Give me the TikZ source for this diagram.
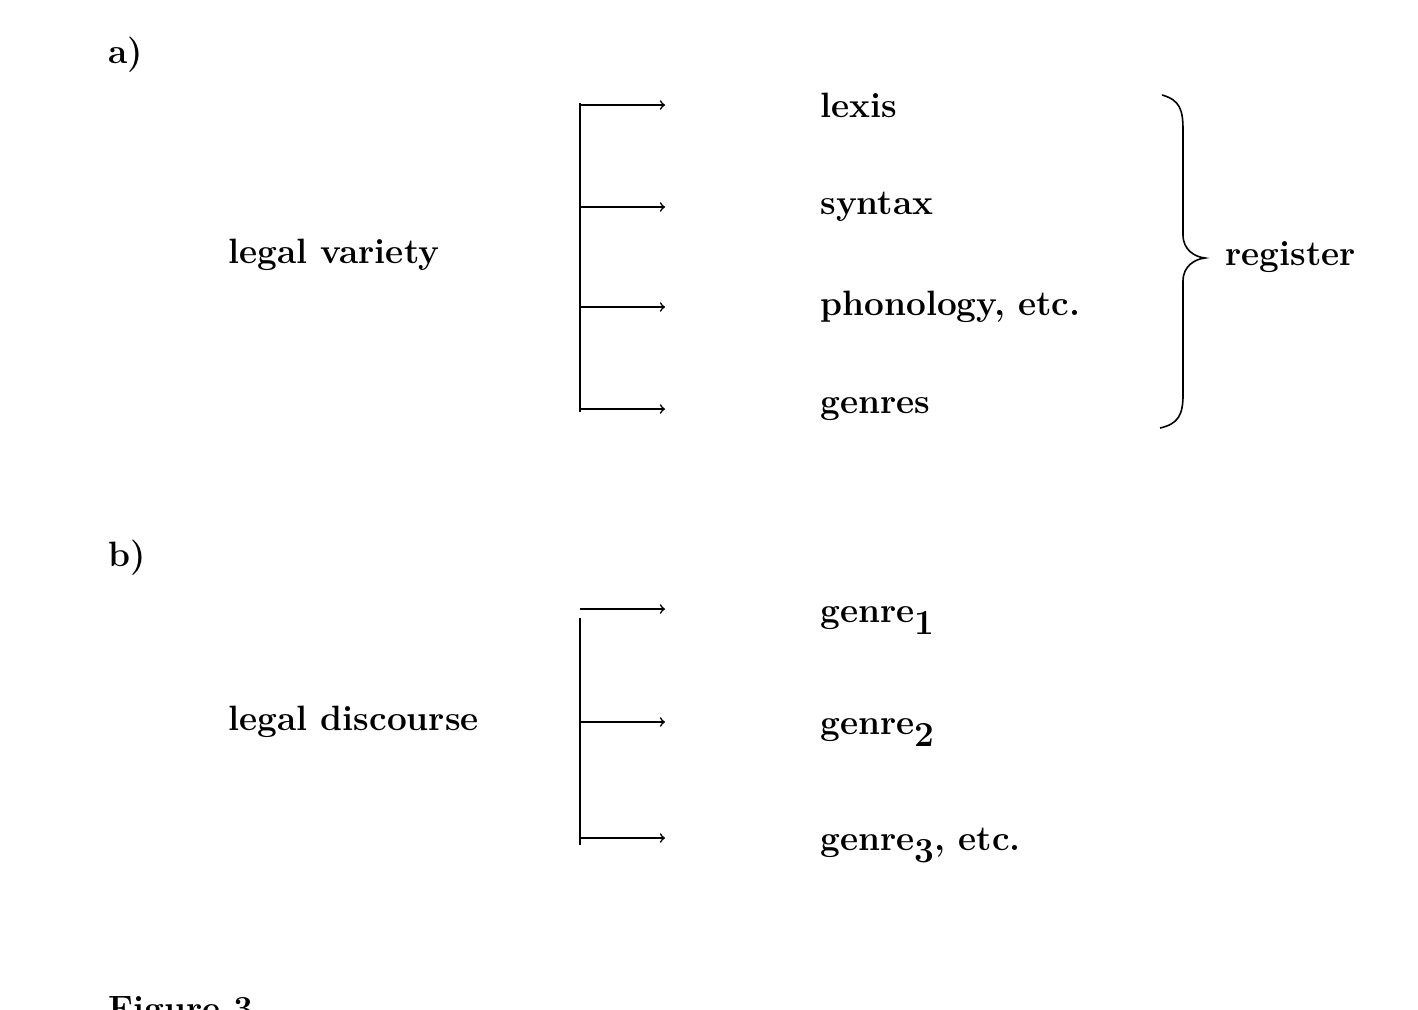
\documentclass[tikz,border=0pt]{standalone}
\newcommand{\lowsub}[1]{\raisebox{-0.35em}{#1}}
\begin{document}
\begin{tikzpicture}[x=0.5pt,y=-0.5pt,
  lab/.style={anchor=west,inner sep=0pt,font=\fontsize{17.6}{20}\selectfont\bfseries},
  arr/.style={->,>={to[scale=1.4]},line width=0.8pt},
  ln/.style={line width=0.8pt}]
\useasboundingbox (0,0) rectangle (1418,1009);
\clip (0,0) rectangle (1418,1009);
\node[lab] (a) at (108,55) {a)};
\node[lab] (lv) at (228,255) {legal variety};
\coordinate (t1) at (580,103); \coordinate (b1) at (580,412);
\draw[ln] (t1) -- (b1);
\foreach \y/\n in {105/1,207/2,307/3,409/4}{
  \coordinate (s\n) at (580,\y); \coordinate (e\n) at (665,\y);
  \draw[arr] (s\n) -- (e\n);}
\node[lab] (lex) at (820,105) {lexis};
\node[lab] (syn) at (820,207) {syntax};
\node[lab] (pho) at (820,307) {phonology, etc.};
\node[lab] (gen) at (820,409) {genres};
\draw[ln] (1162,95) .. controls (1180,100) and (1183,110) .. (1183,130) -- (1183,235) .. controls (1183,250) and (1195,257) .. (1205,258) .. controls (1195,259) and (1183,266) .. (1183,281) -- (1183,395) .. controls (1183,415) and (1178,424) .. (1160,428);
\node[lab] (reg) at (1225,257) {register};
\node[lab] (b) at (108,558) {b)};
\node[lab] (ld) at (228,722) {legal discourse};
\coordinate (t2) at (580,618); \coordinate (b2) at (580,845);
\draw[ln] (t2) -- (b2);
\foreach \y/\n in {609/5,722/6,838/7}{
  \coordinate (s\n) at (580,\y); \coordinate (e\n) at (665,\y);
  \draw[arr] (s\n) -- (e\n);}
\node[lab,anchor=base west] (g1) at (820,622) {genre\lowsub{1}};
\node[lab,anchor=base west] (g2) at (820,734) {genre\lowsub{2}};
\node[lab,anchor=base west] (g3) at (820,850) {genre\lowsub{3}, etc.};
\node[lab,anchor=base west] (fig) at (108,1020) {Figure 3};
\end{tikzpicture}
\end{document}
